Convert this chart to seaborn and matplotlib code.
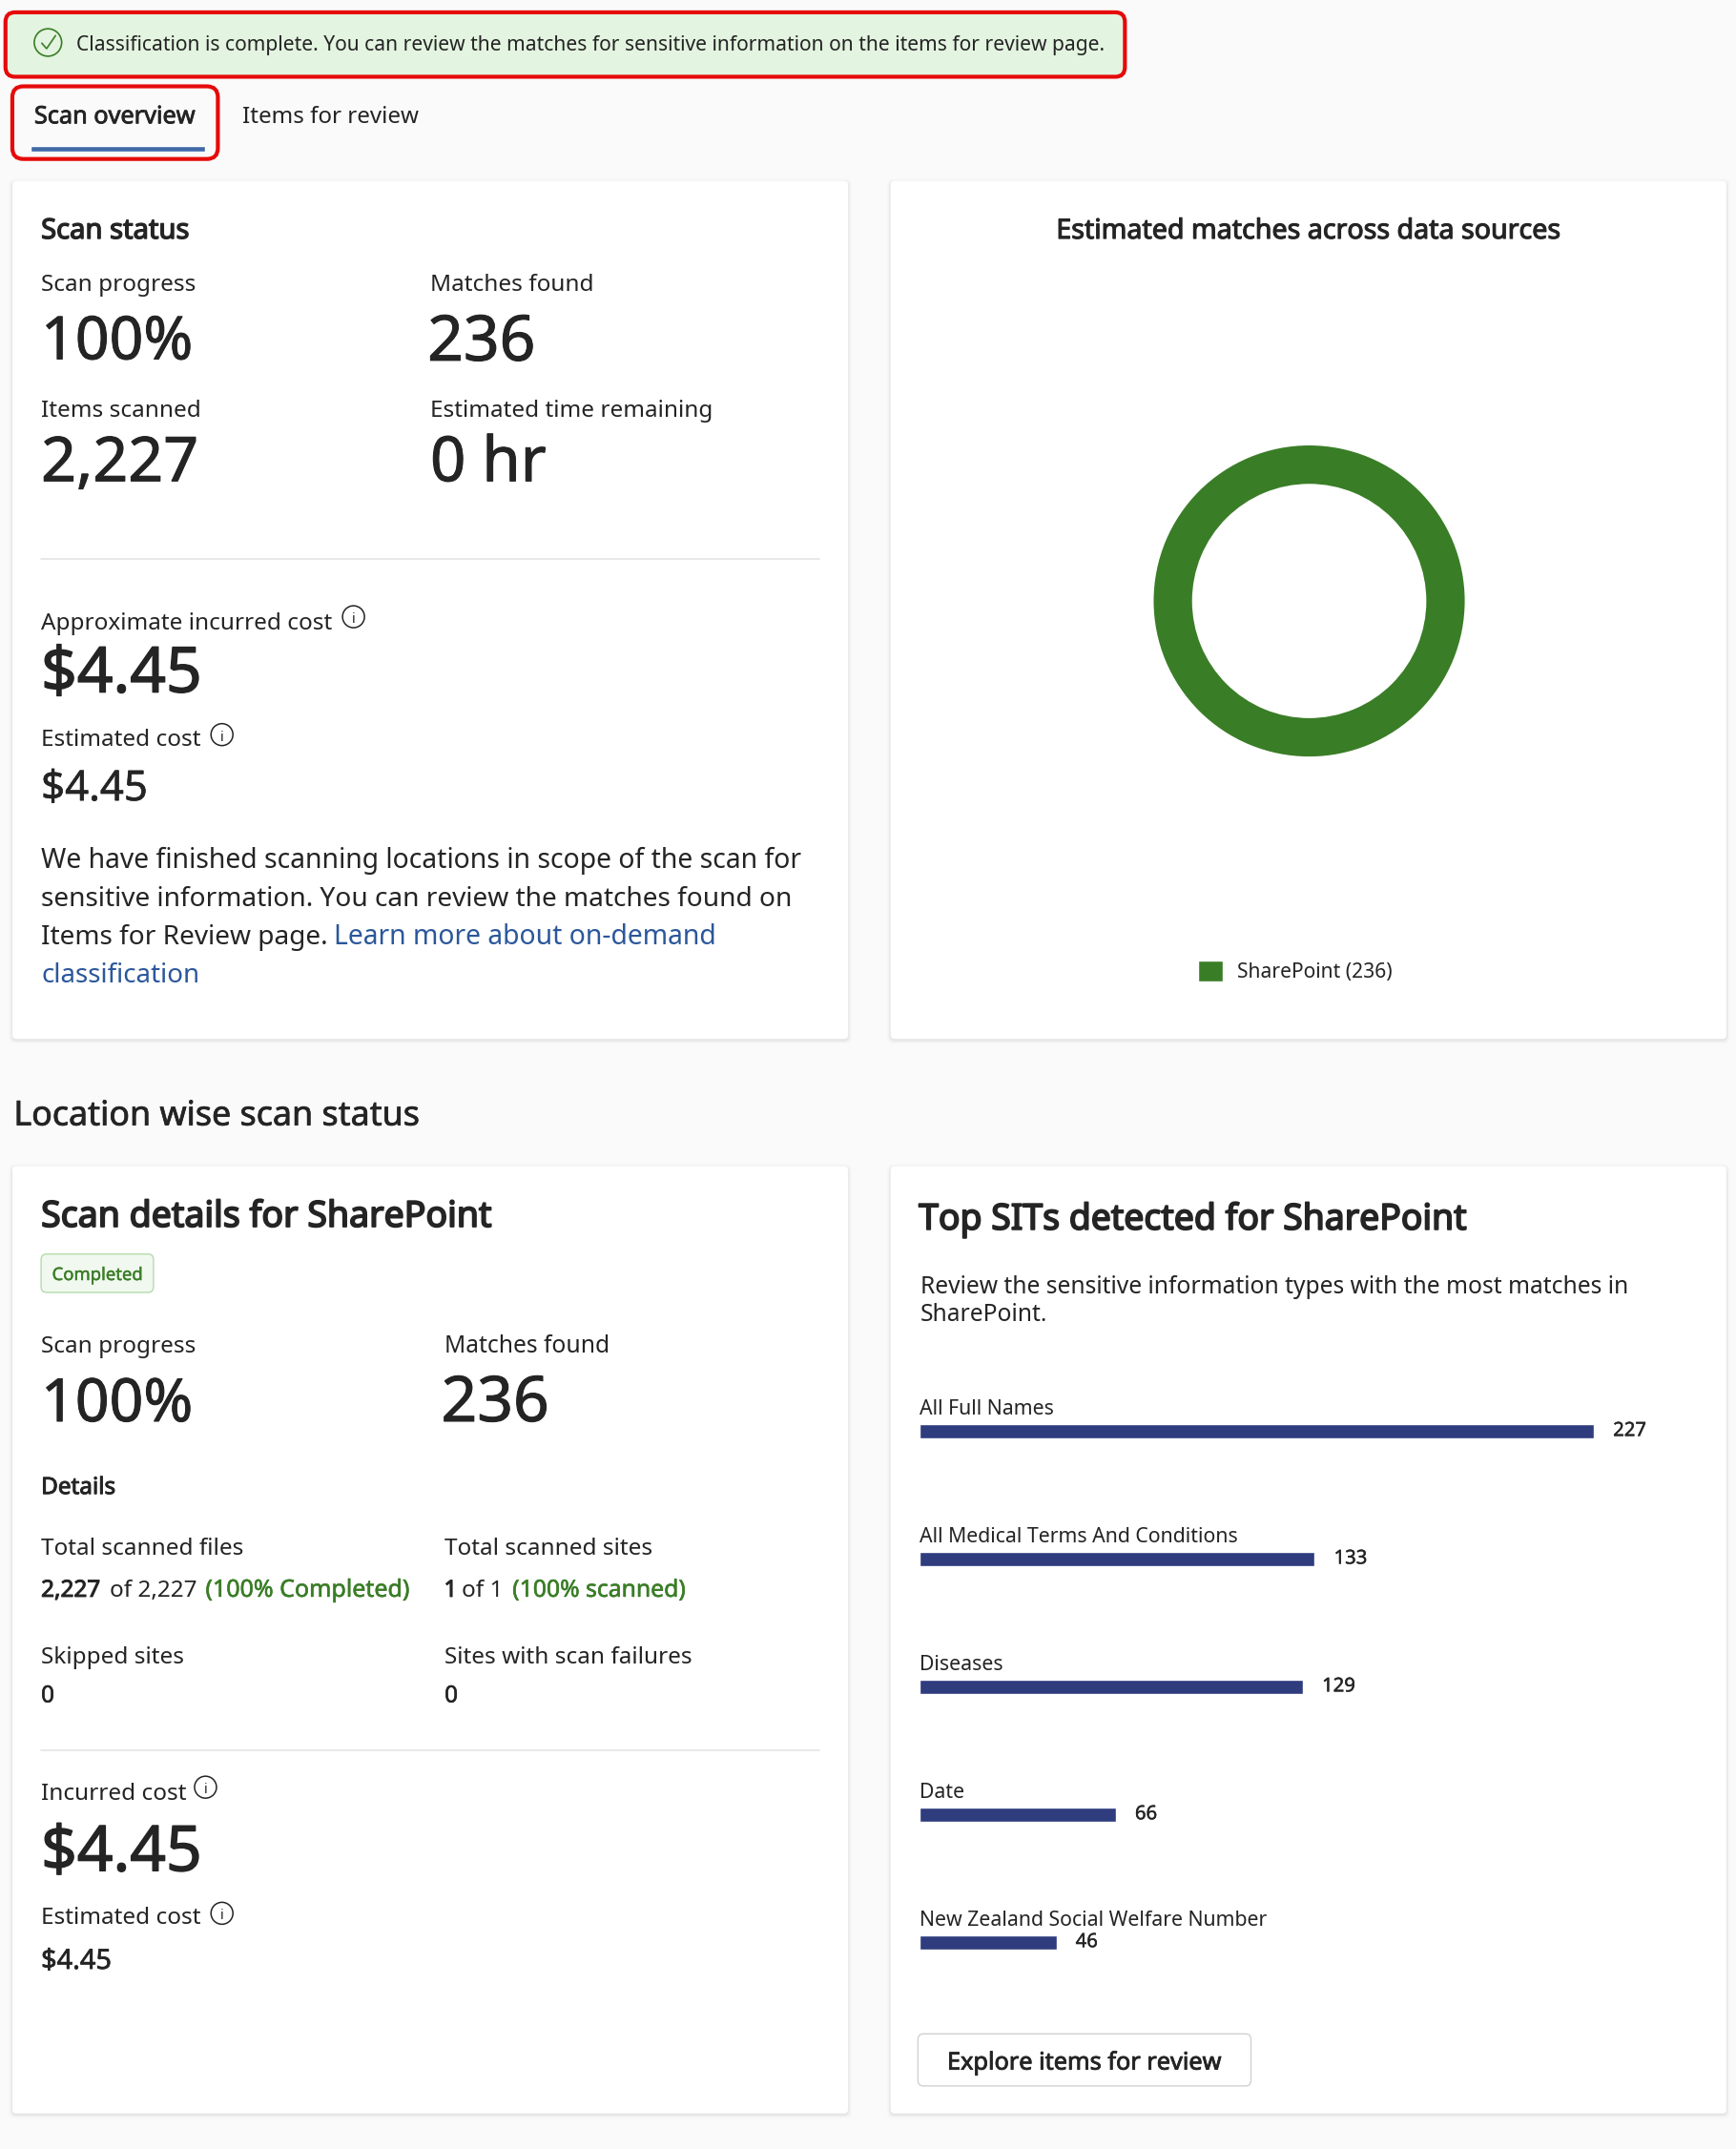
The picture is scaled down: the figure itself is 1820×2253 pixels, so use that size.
import matplotlib
matplotlib.use("Agg")
import matplotlib.pyplot as plt
import matplotlib.patheffects as pe
import pandas as pd
import seaborn as sns
from matplotlib.patches import Circle, FancyBboxPatch, Rectangle

# chart data
sit_names = ["All Full Names", "All Medical Terms And Conditions", "Diseases", "Date",
             "New Zealand Social Welfare Number"]
sit_matches = [227, 133, 129, 66, 46]
source_names = ["SharePoint"]
source_matches = [236]

BG = "#fafafa"
INK = "#242424"
GREEN = "#3a7d27"
LINK = "#2b579a"
RED = "#e60a0a"
BAR = "#2f3c7e"

W, H = 1267, 1568  # layout units, the figure is this scaled up to 1820 wide

sns.set_theme(style="white")
plt.rcParams["font.family"] = ["Noto Sans", "DejaVu Sans"]

fig = plt.figure(figsize=(18.2, 22.53), dpi=100, facecolor=BG)
page = fig.add_axes([0, 0, 1, 1])
page.set_xlim(0, W)
page.set_ylim(H, 0)
page.axis("off")


def thicken(txt, color, amount):
    # the installed Noto Sans only has a regular weight here, so stroke it
    txt.set_path_effects([pe.withStroke(linewidth=amount, foreground=color)])


def label(x, y, s, size=17.5, color=INK, heavy=0, ha="left"):
    txt = page.text(x, y, s, fontsize=size, color=color, ha=ha, va="baseline")
    if heavy:
        thicken(txt, color, heavy)
    return txt


def rounded(x0, y0, x1, y1, face, edge="none", lw=0, r=3, z=1, alpha=1):
    page.add_patch(FancyBboxPatch((x0, y0), x1 - x0, y1 - y0, boxstyle=f"round,pad=0,rounding_size={r}",
                                  facecolor=face, edgecolor=edge, linewidth=lw, zorder=z, alpha=alpha))


def card(x0, y0, x1, y1):
    for grow, a in [(2.5, 0.015), (1.5, 0.025), (0.7, 0.04)]:
        rounded(x0 - grow, y0 - grow + 1, x1 + grow, y1 + grow + 1, "#000000", r=4, z=0.5, alpha=a)
    rounded(x0, y0, x1, y1, "white")


def info(x, y):
    page.add_patch(Circle((x, y), 8, facecolor="none", edgecolor=INK, linewidth=1.1, zorder=2))
    page.text(x, y + 4.5, "i", fontsize=10.5, color=INK, ha="center", va="baseline")


# banner and tabs
rounded(4, 9, 821, 56, "#e3f4e0", edge=RED, lw=3, r=7)
page.add_patch(Circle((35, 31), 10, facecolor="none", edgecolor=GREEN, linewidth=1.2, zorder=2))
page.plot([30.5, 34, 40.5], [31.5, 35.5, 26], color=GREEN, lw=1.2, zorder=3)
label(56, 37, "Classification is complete. You can review the matches for sensitive information on the items for review page.", size=15.15)
rounded(9, 63, 159, 116, "none", edge=RED, lw=3, r=8)
page.add_patch(Rectangle((22, 106.5), 128, 4.5, facecolor="#4169a8", zorder=2))
label(25, 90, "Scan overview", size=18.2, heavy=0.6)
label(177, 90, "Items for review", size=17.4)

# cards
card(9, 132, 619, 758)
card(650, 132, 1260, 758)
card(9, 851, 619, 1542)
card(650, 851, 1260, 1542)

# scan status
label(30, 174, "Scan status", size=21, heavy=1)
label(30, 212, "Scan progress")
label(314, 212, "Matches found")
label(30, 262, "100%", size=45, heavy=0.7)
label(312, 263, "236", size=47.5, heavy=0.7)
label(30, 304, "Items scanned")
label(314, 304, "Estimated time remaining")
label(30, 351, "2,227", size=46.5, heavy=0.7)
label(314, 351, "0 hr", size=47, heavy=0.7)
page.plot([30, 598], [408, 408], color="#e4e4e4", lw=1.2, zorder=2)
label(30, 459, "Approximate incurred cost")
info(258, 450)
label(30, 505, "$4.45", size=47.5, heavy=1)
label(30, 544, "Estimated cost")
info(162, 536)
label(30, 584, "$4.45", size=31.5, heavy=0.4)
label(30, 633, "We have finished scanning locations in scope of the scan for", size=20.4)
label(30, 661, "sensitive information. You can review the matches found on", size=20.2)
label(30, 689, "Items for Review page.", size=20.2)
label(244, 689, "Learn more about on-demand", size=20.4, color=LINK)
label(30, 717, "classification", size=20, color=LINK)

label(955, 174, "Estimated matches across data sources", size=20.6, heavy=0.8, ha="center")

# donut
donut = fig.add_axes([841.5 / W, 1 - 552.5 / H, 228 / W, 228 / H])
wedges, _ = donut.pie(source_matches, colors=[GREEN], radius=1, startangle=90,
                      wedgeprops={"width": 29 / 114})
donut.set_xlim(-1, 1)
donut.set_ylim(-1, 1)
fig.legend(wedges, [f"{n} ({v})" for n, v in zip(source_names, source_matches)],
           loc="center", bbox_to_anchor=(945.5 / W, 1 - 709 / H), frameon=False, fontsize=15.1,
           handlelength=1.2, handleheight=1.2, handletextpad=0.75, labelcolor=INK)

label(10, 821, "Location wise scan status", size=25.8, heavy=0.5)

# scan details
label(30, 895, "Scan details for SharePoint", size=27, heavy=1.3)
rounded(30, 915, 112, 943, "#f1f8ef", edge="#b5dcae", lw=1, r=4, z=2)
label(38, 934, "Completed", size=13.3, color=GREEN, heavy=0.3).set_zorder(3)
label(30, 987, "Scan progress")
label(324.5, 987, "Matches found", size=17.7)
label(30, 1037, "100%", size=45, heavy=0.7)
label(322, 1037, "236", size=47.5, heavy=0.7)
label(30, 1090, "Details", size=17.5, heavy=0.7)
label(30, 1134.5, "Total scanned files")
label(324.5, 1134.5, "Total scanned sites")
label(30, 1165, "2,227", heavy=0.7)
label(80, 1165, "of 2,227")
label(150, 1165, "(100% Completed)", size=18, color=GREEN, heavy=0.4)
label(324, 1165, "1", heavy=0.7)
label(337, 1165, "of 1")
label(374, 1165, "(100% scanned)", size=17.8, color=GREEN, heavy=0.4)
label(30, 1214, "Skipped sites")
label(324.5, 1214, "Sites with scan failures")
label(30, 1242, "0", heavy=0.4)
label(324.5, 1242, "0", heavy=0.4)
page.plot([30, 598], [1277, 1277], color="#e4e4e4", lw=1.2, zorder=2)
label(30, 1313, "Incurred cost")
info(150, 1304)
label(30, 1365, "$4.45", size=47.5, heavy=1)
label(30, 1404, "Estimated cost")
info(162, 1396)
label(30, 1436.5, "$4.45", size=20.8, heavy=0.5)

# top SITs
label(670.5, 897, "Top SITs detected for SharePoint", size=26.9, heavy=1.3)
label(671.5, 944, "Review the sensitive information types with the most matches in", size=17.7)
label(671.5, 964, "SharePoint.", size=17.7)

sits = pd.DataFrame({"name": sit_names, "matches": sit_matches})
bar_top, bar_step = 1044.2, 93.25
bars = fig.add_axes([671.3 / W, 1 - (bar_top + 4.5 * bar_step) / H, 492 / W, 5 * bar_step / H])
bars.patch.set_alpha(0)
sns.barplot(data=sits, x="matches", y="name", color=BAR, saturation=1, width=0.115, ax=bars)
bars.set_xlim(0, max(sit_matches))
bars.set_ylim(4.5, -0.5)
bars.axis("off")
for value_text in bars.bar_label(bars.containers[0], padding=14.5, fontsize=14.6, color=INK):
    thicken(value_text, INK, 0.3)
for i, name in enumerate(sit_names):
    bars.annotate(name, (0, i), xytext=(0, 9), textcoords="offset points", fontsize=15.3,
                  color=INK, va="bottom", annotation_clip=False)

rounded(670, 1484, 913, 1522, "white", edge="#d1d1d1", lw=1, r=4, z=2)
label(791.5, 1510, "Explore items for review", size=18.2, heavy=0.6, ha="center").set_zorder(3)

fig.savefig("out.png", dpi=100, facecolor=BG)
